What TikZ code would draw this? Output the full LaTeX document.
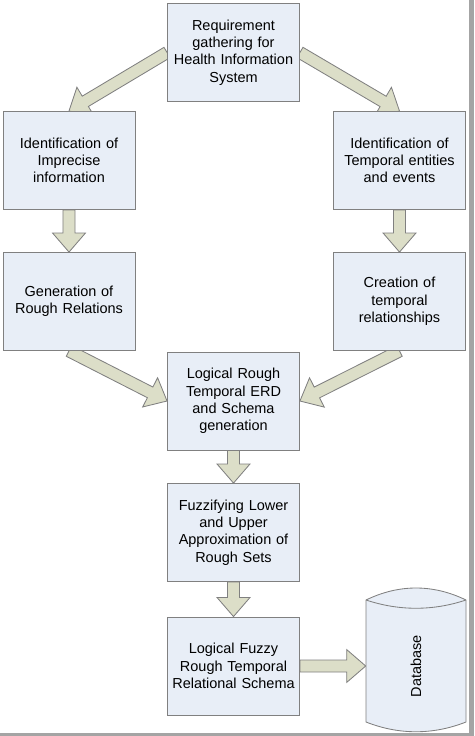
\documentclass[tikz,border=0pt]{standalone}
\usepackage{fontspec}
\setmainfont{Liberation Sans}
\usetikzlibrary{calc,backgrounds}

\definecolor{boxfill}{HTML}{E8EEF7}
\definecolor{boxline}{HTML}{808080}
\definecolor{arrowfill}{HTML}{DCDEC8}
\definecolor{framegray}{HTML}{A4A4A4}

\tikzset{%
  process/.style={
    rectangle,
    draw=boxline,
    fill=boxfill,
    line width=0.6pt,
    minimum width=3.3cm,
    minimum height=2.45cm,
    inner sep=2pt,
    text width=3.1cm,
    align=center,
    font=\fontsize{10.3}{12.3}\selectfont
  },
  block arrow/.style={
    draw=boxline,
    fill=arrowfill,
    line width=0.6pt,
    line join=miter
  },
  storage/.style={
    draw=boxline,
    fill=boxfill,
    line width=0.6pt
  },
}

\newcommand{\flowarrow}[2]{%
  \coordinate (ah) at ($(#2)!0.475cm!(#1)$);
  \draw[block arrow] ($(#1)!0.15cm!90:(#2)$) -- ($(ah)!0.15cm!90:(#2)$)
    -- ($(ah)!0.41cm!90:(#2)$) -- (#2) -- ($(ah)!0.41cm!-90:(#2)$)
    -- ($(ah)!0.15cm!-90:(#2)$) -- ($(#1)!0.15cm!-90:(#2)$) -- cycle;
}

\begin{document}
\begin{tikzpicture}[x=0.025cm,y=-0.025cm]
\useasboundingbox (0,0) rectangle (474,736);
\fill[framegray] (469,0) rectangle (474,736);
\fill[framegray] (0,733) rectangle (474,736);

\node[process] (req) at (233.5,52.5) {Requirement\\ gathering for\\ Health Information\\ System};
\node[process] (imp) at (69,160.5) {Identification of\\ Imprecise\\ information};
\node[process] (temp) at (399.5,160.5) {Identification of\\ Temporal entities\\ and events};
\node[process] (rough) at (69,301.5) {Generation of\\ Rough Relations};
\node[process] (rel) at (399.5,301.5) {Creation of\\ temporal\\ relationships};
\node[process] (erd) at (233.5,401) {Logical Rough\\ Temporal ERD\\ and Schema\\ generation};
\node[process] (fuzz) at (233.5,532.5) {Fuzzifying Lower\\ and Upper\\ Approximation of\\ Rough Sets};
\node[process] (schema) at (233.5,666) {Logical Fuzzy\\ Rough Temporal\\ Relational Schema};

\draw[storage] (366,600) .. controls (399,584) and (433,584) .. (466,600)
  -- (466,722) .. controls (433,735) and (399,735) .. (366,722) -- cycle;
\draw[storage] (366,600) .. controls (399,611) and (433,611) .. (466,600);
\node[minimum width=2.5cm,minimum height=3.05cm,font=\fontsize{10.3}{12.3}\selectfont] (db) at (416,666) {\rotatebox{90}{Database}};

\begin{pgfonlayer}{background}
\flowarrow{req.west}{imp.north}
\flowarrow{req.east}{temp.north}
\flowarrow{imp.south}{rough.north}
\flowarrow{temp.south}{rel.north}
\flowarrow{rough.south}{erd.west}
\flowarrow{rel.south}{erd.east}
\flowarrow{erd.south}{fuzz.north}
\flowarrow{fuzz.south}{schema.north}
\flowarrow{schema.east}{db.west}
\end{pgfonlayer}
\end{tikzpicture}
\end{document}
